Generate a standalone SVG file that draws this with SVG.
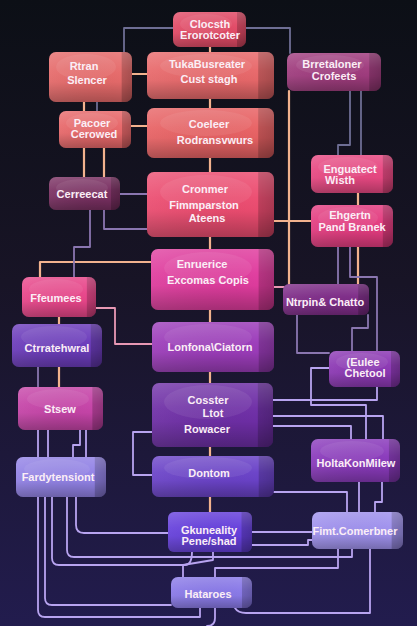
<svg xmlns="http://www.w3.org/2000/svg" width="417" height="626" viewBox="0 0 417 626">
<defs>
<linearGradient id="bg" x1="0" y1="0" x2="0" y2="1">
<stop offset="0" stop-color="#0c0f16"/>
<stop offset="0.45" stop-color="#181426"/>
<stop offset="1" stop-color="#221c4e"/>
</linearGradient>
<linearGradient id="side" x1="0" y1="0" x2="1" y2="0">
<stop offset="0" stop-color="#fff" stop-opacity="0.06"/>
<stop offset="0.87" stop-color="#000" stop-opacity="0"/>
<stop offset="0.88" stop-color="#000" stop-opacity="0.2"/>
<stop offset="1" stop-color="#000" stop-opacity="0.28"/>
</linearGradient>
<linearGradient id="vert" x1="0" y1="0" x2="0" y2="1">
<stop offset="0" stop-color="#fff" stop-opacity="0.16"/>
<stop offset="0.4" stop-color="#fff" stop-opacity="0.02"/>
<stop offset="0.6" stop-color="#000" stop-opacity="0.02"/>
<stop offset="1" stop-color="#000" stop-opacity="0.26"/>
</linearGradient>
<style>
text{font-family:"Liberation Sans",Arial,sans-serif;font-size:11px;font-weight:bold;fill:#fbeef6;text-anchor:middle}
.h{fill:#fff;fill-opacity:0.07}
.c{fill:none;stroke-width:1.8;stroke-linejoin:round;stroke-linecap:round}
.g{stroke:#6e6e94}
.p{stroke:#f2b28e;stroke-width:2.2}
.k{stroke:#e898b4}
.m{stroke:#8a76b0}
.l{stroke:#b8a4f0}
</style>
</defs>
<rect width="417" height="626" fill="url(#bg)"/>

<g id="connectors">
<polyline class="c g" points="173,28 124,28 124,52"/>
<polyline class="c g" points="246,28 290,28 290,53"/>
<polyline class="c g" points="97,102 97,111"/>
<polyline class="c g" points="350,91 350,145 338,145 338,155"/>
<polyline class="c g" points="361,91 361,155"/>

<polyline class="c p" points="210,47 210,52"/>
<polyline class="c p" points="132,74 147,74"/>
<polyline class="c p" points="210,99 210,108"/>
<polyline class="c p" points="84,102 84,111"/>
<polyline class="c p" points="131,126 147,126"/>
<polyline class="c p" points="84,148 84,177"/>
<polyline class="c p" points="104,148 104,177"/>
<polyline class="c p" points="210,158 210,172"/>
<polyline class="c p" points="358,193 358,205"/>
<polyline class="c p" points="274,221 311,221"/>
<polyline class="c p" points="210,237 210,249"/>
<polyline class="c p" points="151,262 40,262 40,277"/>
<polyline class="c k" points="274,287 284,287"/>
<polyline class="c p" points="289,91 289,284"/>
<polyline class="c p" points="358,247 358,284"/>
<polyline class="c p" points="210,310 210,322"/>
<polyline class="c p" points="59,317 59,324"/>
<polyline class="c p" points="59,367 59,387"/>
<polyline class="c k" points="96,308 115,308 115,344 152,344"/>
<polyline class="c p" points="210,372 210,383"/>
<polyline class="c p" points="210,447 210,456"/>
<polyline class="c p" points="210,497 210,512"/>

<polyline class="c m" points="120,194 147,194"/>
<polyline class="c m" points="104,210 104,229 147,229"/>
<polyline class="c m" points="90,210 90,247 74,247 74,277"/>
<polyline class="c m" points="338,247 338,284"/>
<polyline class="c m" points="350,247 350,277 377,277 377,351"/>
<polyline class="c m" points="297,315 297,353 329,353"/>
<polyline class="c m" points="368,315 368,328 352,328 352,351"/>
<polyline class="c m" points="38,367 38,387"/>

<polyline class="c l" points="329,368 311,368 311,405 366,405 366,439"/>
<polyline class="c l" points="273,400 377,400 377,387"/>
<polyline class="c l" points="273,416 383,416 383,439"/>
<polyline class="c l" points="273,426 351,426 351,439"/>
<polyline class="c l" points="152,432 133,432 133,475 152,475"/>
<polyline class="c l" points="38,430 38,457"/>
<polyline class="c l" points="48,430 48,457"/>
<polyline class="c l" points="80,430 80,445 73,445 73,457"/>
<polyline class="c l" points="86,430 86,457"/>
<polyline class="c l" points="359,482 359,512"/>
<polyline class="c l" points="382,482 382,502 375,502 375,512"/>
<polyline class="c l" points="274,492 347,492 347,512"/>
<polyline class="c l" points="252,532 313,532"/>
<polyline class="c l" points="252,545 308,545 308,540 312,540"/>
<path class="c l" d="M76,497 V525 Q76,533 84,533 H168"/>
<path class="c l" d="M67,497 V550 Q67,557 74,557 H352 V549"/>
<path class="c l" d="M52,497 V558 Q52,565 59,565 H185 Q192,565 192,552"/>
<path class="c l" d="M45,497 V598 Q45,605 52,605 H171"/>
<path class="c l" d="M38,497 V610 Q38,617 45,617 H200 V608"/>
<path class="c l" d="M215,608 V618 Q215,626 207,626"/>
<path class="c l" d="M235,608 Q238,613 246,613 H370 V549"/>
<polyline class="c l" points="213,552 213,560 183,565 183,577"/>
<polyline class="c l" points="338,549 338,568 215,568 215,577"/>
</g>

<g id="n1"><rect x="173" y="12" width="73" height="35" rx="7" fill="#e24a66"/><rect x="173" y="12" width="73" height="35" rx="7" fill="url(#side)"/><rect x="173" y="12" width="73" height="35" rx="7" fill="url(#vert)"/><ellipse class="h" cx="206" cy="24" rx="26" ry="10"/><text x="210" y="28">Clocsth</text><text x="210" y="39">Erorotcoter</text></g>

<g id="n2"><rect x="49" y="52" width="83" height="50" rx="7" fill="#e66a6a"/><rect x="49" y="52" width="83" height="50" rx="7" fill="url(#side)"/><rect x="49" y="52" width="83" height="50" rx="7" fill="url(#vert)"/><ellipse class="h" cx="86" cy="67" rx="30" ry="13"/><text x="84" y="70">Rtran</text><text x="87" y="84">Slencer</text></g>

<g id="n3"><rect x="147" y="52" width="127" height="47" rx="7" fill="#e8686a"/><rect x="147" y="52" width="127" height="47" rx="7" fill="url(#side)"/><rect x="147" y="52" width="127" height="47" rx="7" fill="url(#vert)"/><ellipse class="h" cx="206" cy="66" rx="46" ry="12"/><text x="207" y="68">TukaBusreater</text><text x="209" y="83">Cust stagh</text></g>

<g id="n4"><rect x="287" y="53" width="94" height="38" rx="7" fill="#a03c7e"/><rect x="287" y="53" width="94" height="38" rx="7" fill="url(#side)"/><rect x="287" y="53" width="94" height="38" rx="7" fill="url(#vert)"/><ellipse class="h" cx="330" cy="65" rx="34" ry="10"/><text x="332" y="68">Brretaloner</text><text x="334" y="80">Crofeets</text></g>

<g id="n5"><rect x="59" y="111" width="72" height="37" rx="7" fill="#e8686a"/><rect x="59" y="111" width="72" height="37" rx="7" fill="url(#side)"/><rect x="59" y="111" width="72" height="37" rx="7" fill="url(#vert)"/><ellipse class="h" cx="92" cy="123" rx="26" ry="10"/><text x="92" y="127">Pacoer</text><text x="94" y="138">Cerowed</text></g>

<g id="n6"><rect x="147" y="108" width="127" height="50" rx="7" fill="#e86264"/><rect x="147" y="108" width="127" height="50" rx="7" fill="url(#side)"/><rect x="147" y="108" width="127" height="50" rx="7" fill="url(#vert)"/><ellipse class="h" cx="206" cy="123" rx="46" ry="13"/><text x="209" y="128">Coeleer</text><text x="215" y="144">Rodransvwurs</text></g>

<g id="n7"><rect x="311" y="155" width="82" height="38" rx="7" fill="#e84882"/><rect x="311" y="155" width="82" height="38" rx="7" fill="url(#side)"/><rect x="311" y="155" width="82" height="38" rx="7" fill="url(#vert)"/><ellipse class="h" cx="348" cy="167" rx="30" ry="10"/><text x="350" y="173">Enguatect</text><text x="340" y="184">Wisth</text></g>

<g id="n8"><rect x="49" y="177" width="71" height="33" rx="7" fill="#7a3062"/><rect x="49" y="177" width="71" height="33" rx="7" fill="url(#side)"/><rect x="49" y="177" width="71" height="33" rx="7" fill="url(#vert)"/><ellipse class="h" cx="82" cy="188" rx="26" ry="9"/><text x="82" y="198">Cerreecat</text></g>

<g id="n9"><rect x="147" y="172" width="127" height="65" rx="7" fill="#ec4c70"/><rect x="147" y="172" width="127" height="65" rx="7" fill="url(#side)"/><rect x="147" y="172" width="127" height="65" rx="7" fill="url(#vert)"/><ellipse class="h" cx="206" cy="192" rx="46" ry="17"/><text x="205" y="193">Cronmer</text><text x="204" y="209">Fimmparston</text><text x="207" y="222">Ateens</text></g>

<g id="n10"><rect x="311" y="205" width="82" height="42" rx="7" fill="#e43c80"/><rect x="311" y="205" width="82" height="42" rx="7" fill="url(#side)"/><rect x="311" y="205" width="82" height="42" rx="7" fill="url(#vert)"/><ellipse class="h" cx="348" cy="218" rx="30" ry="11"/><text x="350" y="219">Ehgertn</text><text x="352" y="231">Pand Branek</text></g>

<g id="n11"><rect x="151" y="249" width="123" height="61" rx="7" fill="#e03c9e"/><rect x="151" y="249" width="123" height="61" rx="7" fill="url(#side)"/><rect x="151" y="249" width="123" height="61" rx="7" fill="url(#vert)"/><ellipse class="h" cx="208" cy="268" rx="44" ry="16"/><text x="202" y="268">Enruerice</text><text x="208" y="284">Excomas Copis</text></g>

<g id="n12"><rect x="22" y="277" width="74" height="40" rx="7" fill="#e8468a"/><rect x="22" y="277" width="74" height="40" rx="7" fill="url(#side)"/><rect x="22" y="277" width="74" height="40" rx="7" fill="url(#vert)"/><ellipse class="h" cx="56" cy="289" rx="27" ry="10"/><text x="56" y="302">Ffeumees</text></g>

<g id="n13"><rect x="283" y="284" width="86" height="31" rx="6" fill="#7e2c88"/><rect x="283" y="284" width="86" height="31" rx="6" fill="url(#side)"/><rect x="283" y="284" width="86" height="31" rx="6" fill="url(#vert)"/><text x="325" y="306">Ntrpin&amp; Chatto</text></g>

<g id="n14"><rect x="12" y="324" width="90" height="43" rx="7" fill="#6c3cbc"/><rect x="12" y="324" width="90" height="43" rx="7" fill="url(#side)"/><rect x="12" y="324" width="90" height="43" rx="7" fill="url(#vert)"/><ellipse class="h" cx="54" cy="337" rx="33" ry="11"/><text x="57" y="352">Ctrratehwral</text></g>

<g id="n15"><rect x="152" y="322" width="122" height="50" rx="7" fill="#9c3cba"/><rect x="152" y="322" width="122" height="50" rx="7" fill="url(#side)"/><rect x="152" y="322" width="122" height="50" rx="7" fill="url(#vert)"/><ellipse class="h" cx="208" cy="337" rx="44" ry="13"/><text x="210" y="351">Lonfona\Ciatorn</text></g>

<g id="n16"><rect x="329" y="351" width="71" height="36" rx="7" fill="#8c38b4"/><rect x="329" y="351" width="71" height="36" rx="7" fill="url(#side)"/><rect x="329" y="351" width="71" height="36" rx="7" fill="url(#vert)"/><ellipse class="h" cx="362" cy="362" rx="26" ry="9"/><text x="363" y="366">(Eulee</text><text x="365" y="377">Chetool</text></g>

<g id="n17"><rect x="18" y="387" width="85" height="43" rx="7" fill="#c644a8"/><rect x="18" y="387" width="85" height="43" rx="7" fill="url(#side)"/><rect x="18" y="387" width="85" height="43" rx="7" fill="url(#vert)"/><ellipse class="h" cx="58" cy="399" rx="31" ry="10"/><text x="60" y="413">Stsew</text></g>

<g id="n18"><rect x="152" y="383" width="121" height="64" rx="7" fill="#6e2ea6"/><rect x="152" y="383" width="121" height="64" rx="7" fill="url(#side)"/><rect x="152" y="383" width="121" height="64" rx="7" fill="url(#vert)"/><ellipse class="h" cx="208" cy="402" rx="44" ry="17"/><text x="208" y="404">Cosster</text><text x="213" y="417">Ltot</text><text x="207" y="433">Rowacer</text></g>

<g id="n19"><rect x="311" y="439" width="89" height="43" rx="7" fill="#8a3abc"/><rect x="311" y="439" width="89" height="43" rx="7" fill="url(#side)"/><rect x="311" y="439" width="89" height="43" rx="7" fill="url(#vert)"/><ellipse class="h" cx="352" cy="451" rx="32" ry="10"/><text x="356" y="467">HoltaKonMilew</text></g>

<g id="n20"><rect x="16" y="457" width="90" height="40" rx="7" fill="#9282e6"/><rect x="16" y="457" width="90" height="40" rx="7" fill="url(#side)"/><rect x="16" y="457" width="90" height="40" rx="7" fill="url(#vert)"/><ellipse class="h" cx="57" cy="469" rx="33" ry="10"/><text x="58" y="481">Fardytensiont</text></g>

<g id="n21"><rect x="152" y="456" width="122" height="41" rx="7" fill="#6a42c8"/><rect x="152" y="456" width="122" height="41" rx="7" fill="url(#side)"/><rect x="152" y="456" width="122" height="41" rx="7" fill="url(#vert)"/><ellipse class="h" cx="208" cy="468" rx="44" ry="11"/><text x="209" y="477">Dontom</text></g>

<g id="n22"><rect x="168" y="512" width="84" height="40" rx="6" fill="#6640dc"/><rect x="168" y="512" width="84" height="40" rx="6" fill="url(#side)"/><rect x="168" y="512" width="84" height="40" rx="6" fill="url(#vert)"/><text x="209" y="534">Gkuneality</text><text x="209" y="545">Pene/shad</text></g>

<g id="n23"><rect x="312" y="512" width="91" height="37" rx="7" fill="#a092ee"/><rect x="312" y="512" width="91" height="37" rx="7" fill="url(#side)"/><rect x="312" y="512" width="91" height="37" rx="7" fill="url(#vert)"/><text x="355" y="535">Fimt.Comerbner</text></g>

<g id="n24"><rect x="171" y="577" width="81" height="31" rx="7" fill="#8a7ae8"/><rect x="171" y="577" width="81" height="31" rx="7" fill="url(#side)"/><rect x="171" y="577" width="81" height="31" rx="7" fill="url(#vert)"/><text x="208" y="598">Hataroes</text></g>
</svg>
